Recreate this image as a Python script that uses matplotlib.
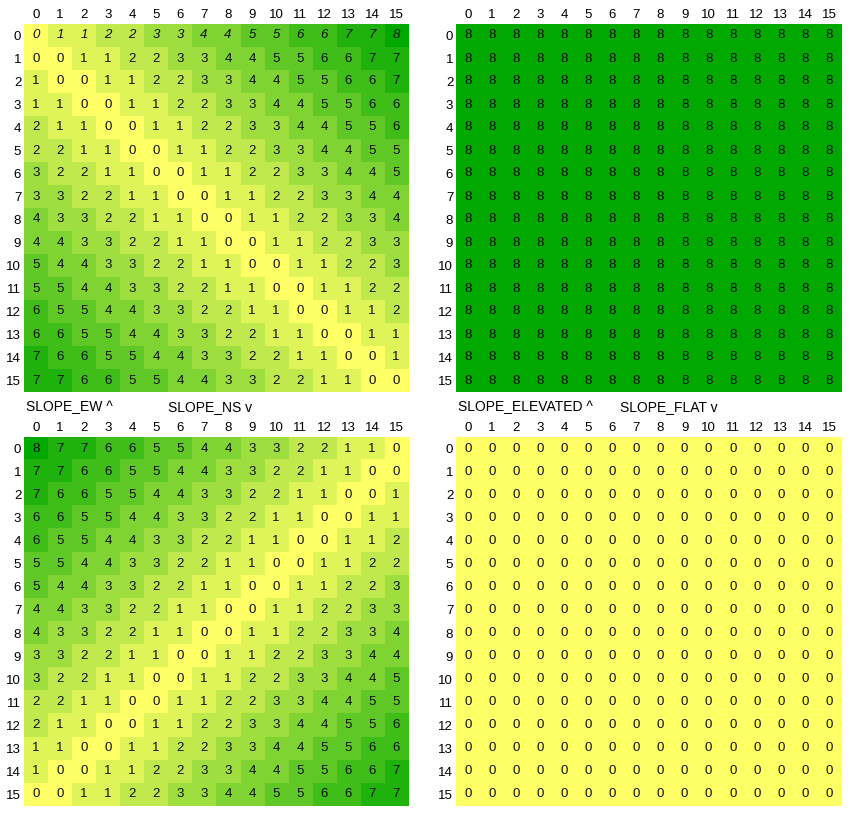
import matplotlib
matplotlib.use("Agg")
import matplotlib.pyplot as plt
import numpy as np
from matplotlib.colors import LinearSegmentedColormap

plt.rcParams['font.family'] = ['Liberation Sans', 'DejaVu Sans']

slope_ew = [
[0,1,1,2,2,3,3,4,4,5,5,6,6,7,7,8],
[0,0,1,1,2,2,3,3,4,4,5,5,6,6,7,7],
[1,0,0,1,1,2,2,3,3,4,4,5,5,6,6,7],
[1,1,0,0,1,1,2,2,3,3,4,4,5,5,6,6],
[2,1,1,0,0,1,1,2,2,3,3,4,4,5,5,6],
[2,2,1,1,0,0,1,1,2,2,3,3,4,4,5,5],
[3,2,2,1,1,0,0,1,1,2,2,3,3,4,4,5],
[3,3,2,2,1,1,0,0,1,1,2,2,3,3,4,4],
[4,3,3,2,2,1,1,0,0,1,1,2,2,3,3,4],
[4,4,3,3,2,2,1,1,0,0,1,1,2,2,3,3],
[5,4,4,3,3,2,2,1,1,0,0,1,1,2,2,3],
[5,5,4,4,3,3,2,2,1,1,0,0,1,1,2,2],
[6,5,5,4,4,3,3,2,2,1,1,0,0,1,1,2],
[6,6,5,5,4,4,3,3,2,2,1,1,0,0,1,1],
[7,6,6,5,5,4,4,3,3,2,2,1,1,0,0,1],
[7,7,6,6,5,5,4,4,3,3,2,2,1,1,0,0],
]
slope_ns = [
[8,7,7,6,6,5,5,4,4,3,3,2,2,1,1,0],
[7,7,6,6,5,5,4,4,3,3,2,2,1,1,0,0],
[7,6,6,5,5,4,4,3,3,2,2,1,1,0,0,1],
[6,6,5,5,4,4,3,3,2,2,1,1,0,0,1,1],
[6,5,5,4,4,3,3,2,2,1,1,0,0,1,1,2],
[5,5,4,4,3,3,2,2,1,1,0,0,1,1,2,2],
[5,4,4,3,3,2,2,1,1,0,0,1,1,2,2,3],
[4,4,3,3,2,2,1,1,0,0,1,1,2,2,3,3],
[4,3,3,2,2,1,1,0,0,1,1,2,2,3,3,4],
[3,3,2,2,1,1,0,0,1,1,2,2,3,3,4,4],
[3,2,2,1,1,0,0,1,1,2,2,3,3,4,4,5],
[2,2,1,1,0,0,1,1,2,2,3,3,4,4,5,5],
[2,1,1,0,0,1,1,2,2,3,3,4,4,5,5,6],
[1,1,0,0,1,1,2,2,3,3,4,4,5,5,6,6],
[1,0,0,1,1,2,2,3,3,4,4,5,5,6,6,7],
[0,0,1,1,2,2,3,3,4,4,5,5,6,6,7,7],
]
slope_elevated = [[8]*16 for _ in range(16)]
slope_flat = [[0]*16 for _ in range(16)]
ticks = list(range(16))

cmap = LinearSegmentedColormap.from_list("yg", ["#ffff66", "#00a800"])

W, H = 863, 835
fig = plt.figure(figsize=(W/100, H/100), dpi=100)

def panel(data, x0, y0, x1, y1, italic_row0=False):
    ax = fig.add_axes([x0/W, 1-y1/H, (x1-x0)/W, (y1-y0)/H])
    arr = np.array(data)
    ax.imshow(arr, cmap=cmap, vmin=0, vmax=8, aspect='auto', interpolation='nearest')
    for r in range(arr.shape[0]):
        for c in range(arr.shape[1]):
            ax.text(c, r, str(arr[r, c]), ha='center', va='center', fontsize=9.5,
                    style='italic' if (italic_row0 and r == 0) else 'normal', color='#111')
    ax.set_xticks(ticks); ax.set_yticks(ticks)
    ax.set_xticklabels([str(t) for t in ticks], fontsize=9.5)
    ax.set_yticklabels([str(t) for t in ticks], fontsize=9.5)
    ax.xaxis.tick_top()
    ax.tick_params(length=0, pad=2)
    for s in ax.spines.values():
        s.set_visible(False)
    return ax

panel(slope_ew, 24, 24, 408, 392, italic_row0=True)
panel(slope_elevated, 456, 24, 841, 392)
panel(slope_ns, 24, 437, 408, 806)
panel(slope_flat, 456, 437, 841, 806)

for x, t in [(26, "SLOPE_EW ^"), (168, "SLOPE_NS v"), (458, "SLOPE_ELEVATED ^"), (620, "SLOPE_FLAT v")]:
    fig.text(x/W, 1-407/H, t, fontsize=10, ha='left', va='center')

fig.savefig("out.png", dpi=100)
